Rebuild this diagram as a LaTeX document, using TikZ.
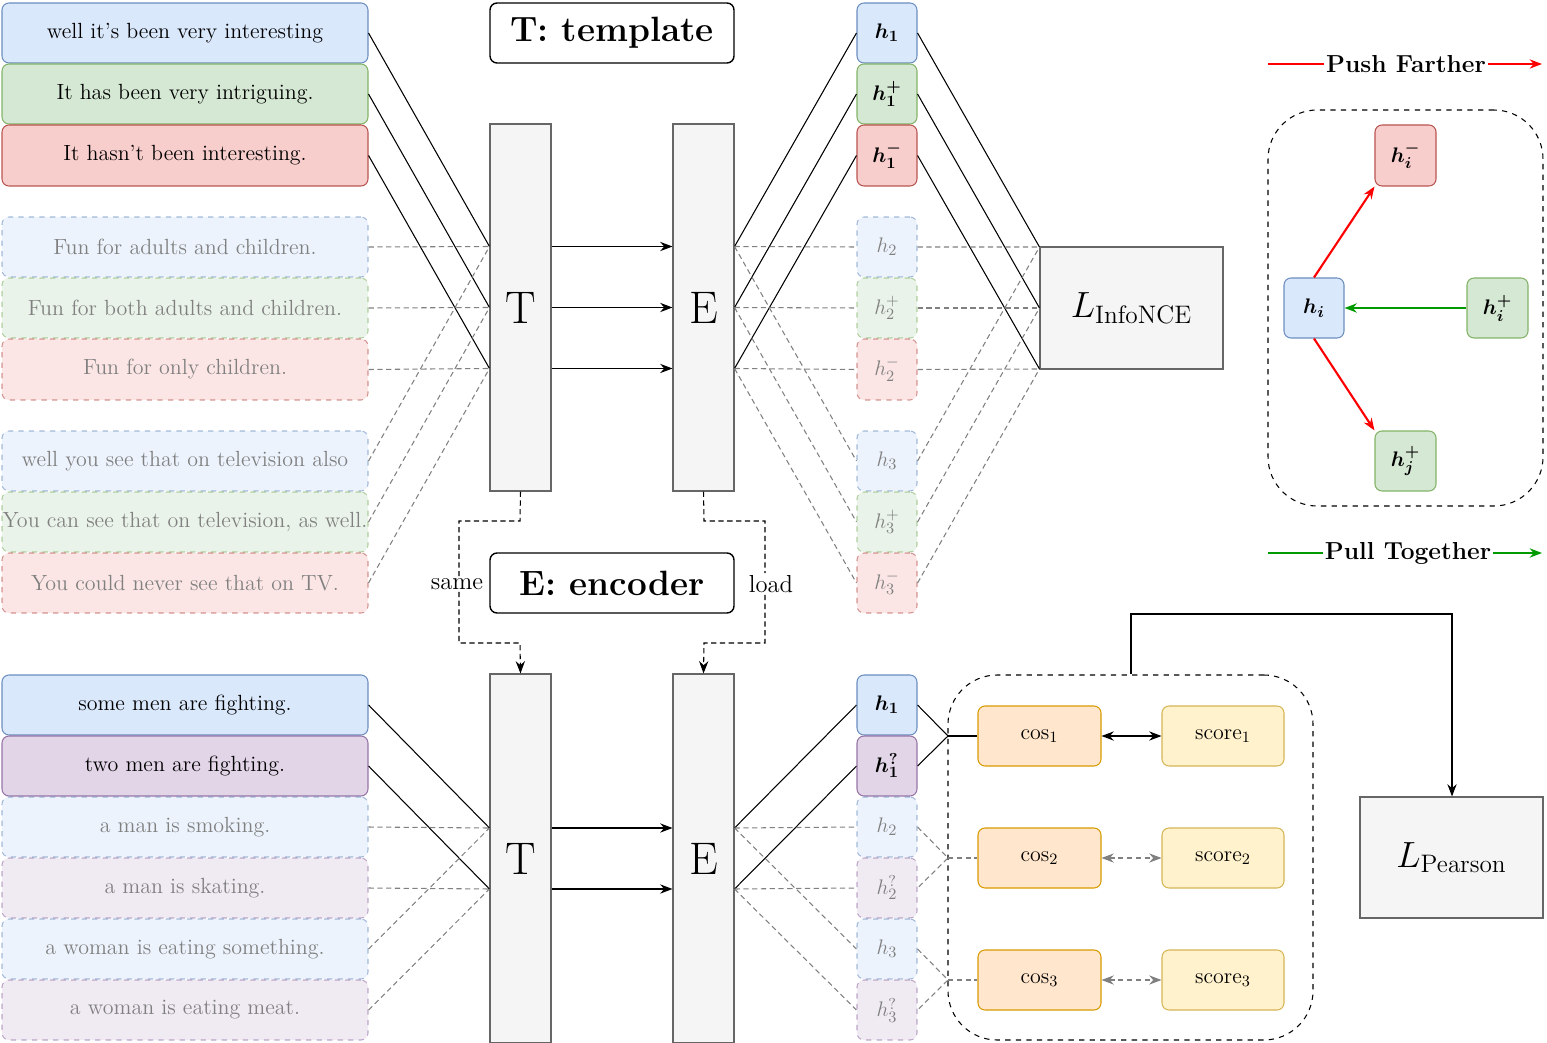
\documentclass[tikz,border=0pt]{standalone}
\usepackage{bm}
\usetikzlibrary{arrows.meta}
\definecolor{bF}{HTML}{DAE8FC}\definecolor{bD}{HTML}{6C8EBF}
\definecolor{gF}{HTML}{D5E8D4}\definecolor{gD}{HTML}{82B366}
\definecolor{rF}{HTML}{F8CECC}\definecolor{rD}{HTML}{B85450}
\definecolor{pF}{HTML}{E1D5E7}\definecolor{pD}{HTML}{9673A6}
\definecolor{oF}{HTML}{FFE6CC}\definecolor{oD}{HTML}{D79B00}
\definecolor{yF}{HTML}{FFF2CC}\definecolor{yD}{HTML}{D6B656}
\definecolor{kF}{HTML}{F5F5F5}\definecolor{kD}{HTML}{666666}
\definecolor{pushc}{HTML}{FF0000}\definecolor{pullc}{HTML}{009900}
\newcommand\bx[7]{\node[#6, minimum width={(#4-#2)*0.02cm}, minimum height={(#5-#3)*0.02cm}] (#1) at ({(#2+#4)/2},{(#3+#5)/2}) {#7};}
\tikzset{
 base/.style={draw, rounded corners=4pt, inner sep=0pt, font=\fontsize{12.5}{14}\selectfont},
 blue/.style={base, fill=bF, draw=bD}, green/.style={base, fill=gF, draw=gD},
 red/.style={base, fill=rF, draw=rD}, purple/.style={base, fill=pF, draw=pD},
 orange/.style={base, fill=oF, draw=oD}, yellow/.style={base, fill=yF, draw=yD},
 faded/.style={fill opacity=0.5, draw opacity=0.6, dashed, text=black!50, text opacity=1},
 big/.style={draw, fill=kF, draw=kD, inner sep=0pt, font=\fontsize{26}{30}\selectfont},
 title/.style={draw, rounded corners=4pt, thick, inner sep=0pt, font=\fontsize{20}{24}\selectfont\bfseries},
 sl/.style={black}, dl/.style={densely dashed, black!50},
 arr/.style={-{Stealth[length=7pt]}},
 lbl/.style={font=\fontsize{14}{16}\selectfont\bfseries, inner sep=1pt},
}
\begin{document}
\begin{tikzpicture}[x=0.02cm, y=-0.02cm, line width=0.6pt]
\useasboundingbox (0,0) rectangle (1547,1043);
% top sentences
\bx{s1}{2}{3}{368}{63}{blue}{well it's been very interesting}
\bx{s2}{2}{64}{368}{124}{green}{It has been very intriguing.}
\bx{s3}{2}{125}{368}{186}{red}{It hasn't been interesting.}
\bx{s4}{2}{217}{368}{277}{blue,faded}{Fun for adults and children.}
\bx{s5}{2}{278}{368}{338}{green,faded}{Fun for both adults and children.}
\bx{s6}{2}{339}{368}{400}{red,faded}{Fun for only children.}
\bx{s7}{2}{431}{368}{491}{blue,faded}{well you see that on television also}
\bx{s8}{2}{492}{368}{552}{green,faded}{You can see that on television, as well.}
\bx{s9}{2}{553}{368}{613}{red,faded}{You could never see that on TV.}
% bottom sentences
\bx{b1}{2}{675}{368}{735}{blue}{some men are fighting.}
\bx{b2}{2}{736}{368}{796}{purple}{two men are fighting.}
\bx{b3}{2}{797}{368}{857}{blue,faded}{a man is smoking.}
\bx{b4}{2}{858}{368}{918}{purple,faded}{a man is skating.}
\bx{b5}{2}{919}{368}{979}{blue,faded}{a woman is eating something.}
\bx{b6}{2}{980}{368}{1040}{purple,faded}{a woman is eating meat.}
% T and E
\bx{T1}{490}{124}{551}{491}{big}{T}
\bx{E1}{673}{124}{734}{491}{big}{E}
\bx{T2}{490}{674}{551}{1043}{big}{T}
\bx{E2}{673}{674}{734}{1043}{big}{E}
\bx{tt}{490}{3}{734}{63}{title}{T: template}
\bx{te}{490}{553}{734}{613}{title}{E: encoder}
% h boxes top
\bx{h1}{857}{3}{917}{63}{blue}{$\bm{h_1}$}
\bx{h1p}{857}{64}{917}{124}{green}{$\bm{h_1^+}$}
\bx{h1m}{857}{125}{917}{186}{red}{$\bm{h_1^-}$}
\bx{h2}{857}{217}{917}{277}{blue,faded}{$h_2$}
\bx{h2p}{857}{278}{917}{338}{green,faded}{$h_2^+$}
\bx{h2m}{857}{339}{917}{400}{red,faded}{$h_2^-$}
\bx{h3}{857}{431}{917}{491}{blue,faded}{$h_3$}
\bx{h3p}{857}{492}{917}{552}{green,faded}{$h_3^+$}
\bx{h3m}{857}{553}{917}{613}{red,faded}{$h_3^-$}
% h boxes bottom
\bx{g1}{857}{675}{917}{735}{blue}{$\bm{h_1}$}
\bx{g1q}{857}{736}{917}{796}{purple}{$\bm{h_1^?}$}
\bx{g2}{857}{797}{917}{857}{blue,faded}{$h_2$}
\bx{g2q}{857}{858}{917}{918}{purple,faded}{$h_2^?$}
\bx{g3}{857}{919}{917}{979}{blue,faded}{$h_3$}
\bx{g3q}{857}{980}{917}{1040}{purple,faded}{$h_3^?$}
% losses
\bx{LI}{1040}{247}{1223}{369}{big,font=\fontsize{22}{26}\selectfont}{$L_{\mathrm{InfoNCE}}$}
\bx{LP}{1360}{797}{1543}{918}{big,font=\fontsize{22}{26}\selectfont}{$L_{\mathrm{Pearson}}$}
% cos / score
\bx{c1}{978}{706}{1101}{766}{orange}{cos$_1$}
\bx{c2}{978}{828}{1101}{888}{orange}{cos$_2$}
\bx{c3}{978}{950}{1101}{1010}{orange}{cos$_3$}
\bx{r1}{1162}{706}{1284}{766}{yellow}{score$_1$}
\bx{r2}{1162}{828}{1284}{888}{yellow}{score$_2$}
\bx{r3}{1162}{950}{1284}{1010}{yellow}{score$_3$}
\bx{cb}{948}{675}{1313}{1040}{draw, dashed, rounded corners=28pt}{}
% legend
\bx{lb}{1268}{110}{1543}{506}{draw, dashed, rounded corners=28pt}{}
\bx{li}{1284}{278}{1344}{338}{blue}{$\bm{h_i}$}
\bx{lim}{1375}{125}{1436}{186}{red}{$\bm{h_i^-}$}
\bx{lip}{1467}{278}{1528}{338}{green}{$\bm{h_i^+}$}
\bx{ljp}{1375}{431}{1436}{491}{green}{$\bm{h_j^+}$}
\node[lbl] (pf) at (1406,64) {Push Farther};
\node[lbl] (pt) at (1408,553) {Pull Together};
\coordinate (pfa) at (1268,64); \coordinate (pfb) at (1542,64);
\coordinate (pta) at (1268,553); \coordinate (ptb) at (1542,553);
\draw[pushc, line width=1.2pt] (pfa) -- (pf.west);
\draw[pushc, line width=1.2pt, arr] (pf.east) -- (pfb);
\draw[pullc, line width=1.2pt] (pta) -- (pt.west);
\draw[pullc, line width=1.2pt, arr] (pt.east) -- (ptb);
\draw[pushc, line width=1.2pt, arr] (li.north) -- (lim.south west);
\draw[pushc, line width=1.2pt, arr] (li.south) -- (ljp.north west);
\draw[pullc, line width=1.2pt, arr] (lip.west) -- (li.east);
% top: sentences -> T
\foreach \a/\b in {s1/1.22,s2/0,s3/-1.22}{\draw[sl] (\a.east) -- ([yshift=\b cm]T1.west);}
\foreach \a/\b in {s4/1.22,s5/0,s6/-1.22,s7/1.22,s8/0,s9/-1.22}{\draw[dl] (\a.east) -- ([yshift=\b cm]T1.west);}
\foreach \b in {1.22,0,-1.22}{\draw[arr] ([yshift=\b cm]T1.east) -- ([yshift=\b cm]E1.west);}
\foreach \a/\b in {h1/1.22,h1p/0,h1m/-1.22}{\draw[sl] ([yshift=\b cm]E1.east) -- (\a.west); \draw[sl] (\a.east) -- ([yshift=\b cm]LI.west);}
\foreach \a/\b in {h2/1.22,h2p/0,h2m/-1.22,h3/1.22,h3p/0,h3m/-1.22}{\draw[dl] ([yshift=\b cm]E1.east) -- (\a.west); \draw[dl] (\a.east) -- ([yshift=\b cm]LI.west);}
% bottom
\foreach \a/\b in {b1/0.61,b2/-0.61}{\draw[sl] (\a.east) -- ([yshift=\b cm]T2.west);}
\foreach \a/\b in {b3/0.61,b4/-0.61,b5/0.61,b6/-0.61}{\draw[dl] (\a.east) -- ([yshift=\b cm]T2.west);}
\foreach \b in {0.61,-0.61}{\draw[arr] ([yshift=\b cm]T2.east) -- ([yshift=\b cm]E2.west);}
\foreach \a/\b in {g1/0.61,g1q/-0.61}{\draw[sl] ([yshift=\b cm]E2.east) -- (\a.west);}
\foreach \a/\b in {g2/0.61,g2q/-0.61,g3/0.61,g3q/-0.61}{\draw[dl] ([yshift=\b cm]E2.east) -- (\a.west);}
\coordinate (j1) at (948,736); \coordinate (j2) at (948,858); \coordinate (j3) at (948,980);
\draw[sl] (g1.east) -- (j1) -- (g1q.east); \draw[sl] (j1) -- (c1.west);
\draw[dl] (g2.east) -- (j2) -- (g2q.east); \draw[dl] (j2) -- (c2.west);
\draw[dl] (g3.east) -- (j3) -- (g3q.east); \draw[dl] (j3) -- (c3.west);
\draw[{Stealth[length=7pt]}-{Stealth[length=7pt]}] (c1) -- (r1);
\draw[dl,{Stealth[length=7pt]}-{Stealth[length=7pt]}] (c2) -- (r2);
\draw[dl,{Stealth[length=7pt]}-{Stealth[length=7pt]}] (c3) -- (r3);
\draw[arr] (cb.north -| 1131,0) -- (1131,614) -- (1452,614) -- (LP.north -| 1452,0);
% same / load
\node[font=\fontsize{14}{16}\selectfont, fill=white, inner sep=1pt] (same) at (457,584) {same};
\node[font=\fontsize{14}{16}\selectfont, fill=white, inner sep=1pt] (load) at (771,584) {load};
\draw[densely dashed] (T1.south) -- (520,521) -- (459,521) -- (same.north -| 459,0);
\draw[densely dashed, arr] (same.south -| 459,0) -- (459,643) -- (520,643) -- (T2.north);
\draw[densely dashed] (E1.south) -- (704,521) -- (765,521) -- (load.north -| 765,0);
\draw[densely dashed, arr] (load.south -| 765,0) -- (765,643) -- (704,643) -- (E2.north);
\end{tikzpicture}
\end{document}
